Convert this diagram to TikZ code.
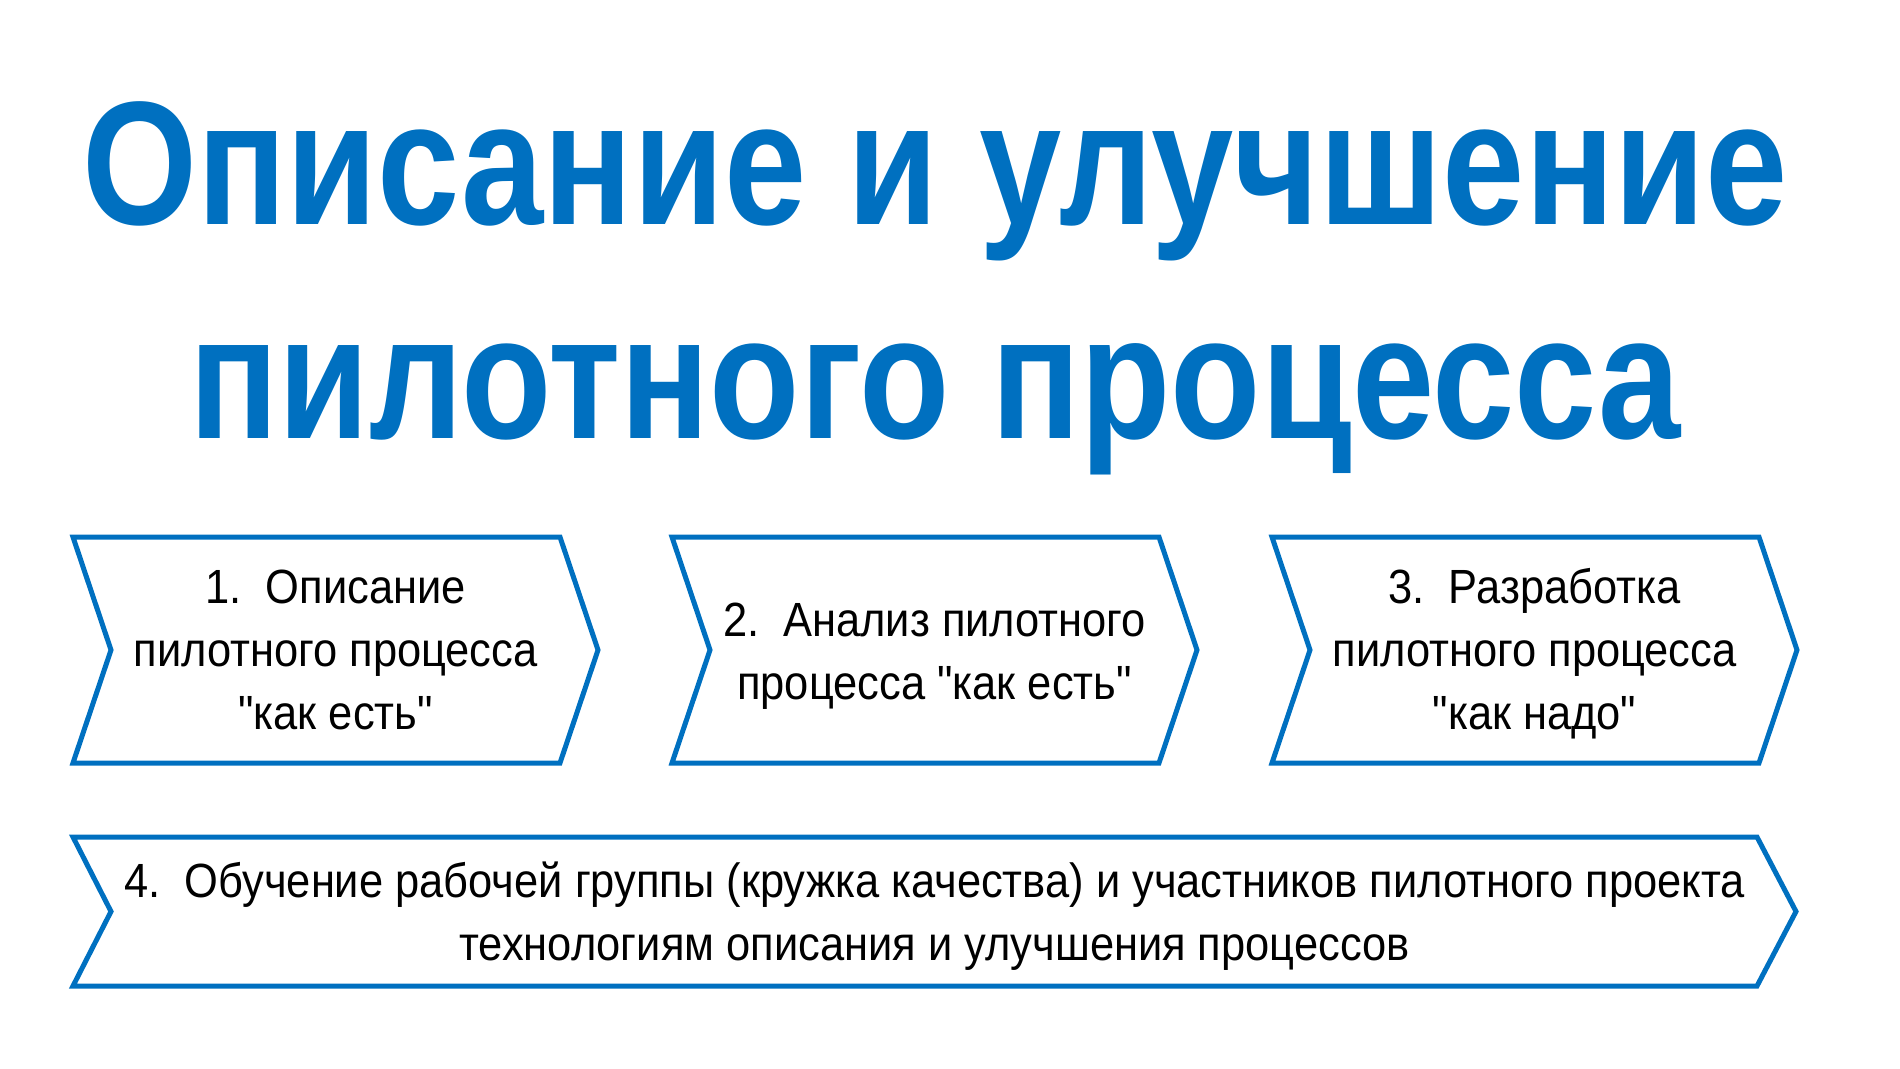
\documentclass[tikz,border=0pt]{standalone}
\usepackage{fontspec}
\newfontfamily\titlefont{Liberation Sans}[FakeStretch=0.84]
\newfontfamily\stepfont{Liberation Sans}[FakeStretch=0.905]
\usepackage{tikz}
\usetikzlibrary{positioning}

\definecolor{procblue}{HTML}{0070C0}

\begin{document}
\begin{tikzpicture}[
    x=0.5pt, y=-0.5pt, % 1 单位 = 参考图中 1 像素
    chevron/.style={draw=procblue, line width=2.5pt, line join=miter},
    steptext/.style={align=center, inner sep=0pt, font=\stepfont\fontsize{24}{31.5}\selectfont},
    titletext/.style={text=procblue, inner sep=0pt, font=\titlefont\fontsize{88}{106}\selectfont\bfseries}
  ]
  \useasboundingbox (0,0) rectangle (1900,1069);
  % 标题
  \node[titletext, anchor=base] (title1) at (935,225) {Описание и улучшение};
  \node[titletext, anchor=base] (title2) at (935,438) {пилотного процесса};
  % 上面三个箭头
  \foreach \x in {73,672,1272} {
    \draw[chevron] (\x,537) -- ++(487,0) -- ++(38,113) -- ++(-38,113)
      -- ++(-487,0) -- ++(38,-113) -- cycle;
  }
  % 下面的长箭头
  \draw[chevron] (73,837) -- (1757,837) -- (1796,911.5) -- (1757,986)
    -- (73,986) -- (111,911.5) -- cycle;
  % 各步骤的文字
  \node[steptext] (s1) at (335.5,650) {1.\ \ Описание\\пилотного процесса\\"как есть"};
  \node[steptext] (s2) at (934.5,656) {2.\ \ Анализ пилотного\\процесса "как есть"};
  \node[steptext] (s3) at (1534.5,654) {3.\ \ Разработка\\пилотного процесса\\"как надо"};
  \node[steptext] (s4) at (934.5,916) {4.\ \ Обучение рабочей группы (кружка качества) и участников пилотного проекта\\технологиям описания и улучшения процессов};
\end{tikzpicture}
\end{document}
